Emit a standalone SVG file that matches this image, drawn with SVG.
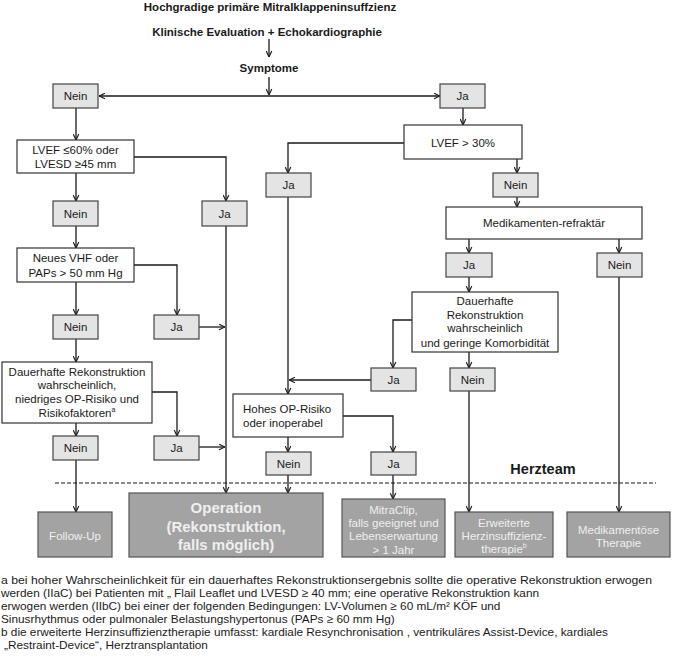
<svg xmlns="http://www.w3.org/2000/svg" width="673" height="672" viewBox="0 0 673 672">
<defs>
<marker id="arr" viewBox="0 0 10 10" refX="9.5" refY="5" markerWidth="7" markerHeight="7" markerUnits="userSpaceOnUse" orient="auto-start-reverse">
<path d="M1,1 L9.5,5 L1,9" fill="none" stroke="#1a1a1a" stroke-width="1.6"/>
</marker>
<style>
.box{fill:#fff;stroke:#333;stroke-width:1.2}
.sm{fill:#e4e4e4;stroke:#444;stroke-width:1.2}
.out{fill:#a3a3a3;stroke:#555;stroke-width:1.2}
.t{font-family:"Liberation Sans",Arial,sans-serif;font-size:11.5px;fill:#1a1a1a;text-anchor:middle}
.b{font-weight:bold}
.ot{fill:#efefef}
.big{font-size:15px}
.fn{font-size:11.8px;text-anchor:start}
.ln{fill:none;stroke:#1a1a1a;stroke-width:1.3}
.ar{marker-end:url(#arr)}
</style>
</defs>
<rect width="673" height="672" fill="#fff"/>

<g id="title"><text class="t b" x="270" y="11">Hochgradige primäre Mitralklappeninsuffzienz</text></g>
<g id="klinisch"><text class="t b" x="267" y="36">Klinische Evaluation + Echokardiographie</text></g>
<g id="symptome"><text class="t b" x="269" y="72">Symptome</text></g>

<g id="connectors">
<path class="ln ar" d="M269,39 V57"/>
<path class="ln ar" d="M269,77 V95"/>
<path class="ln ar" d="M99,96 H440" marker-start="url(#arr)"/>
<path class="ln ar" d="M76,108 V140"/>
<path class="ln ar" d="M76,173 V201"/>
<path class="ln ar" d="M134,157 H226 V201"/>
<path class="ln ar" d="M76,226 V248"/>
<path class="ln ar" d="M134,265 H177 V315"/>
<path class="ln ar" d="M76,282 V315"/>
<path class="ln ar" d="M199,327 H225"/>
<path class="ln ar" d="M226,226 V493"/>
<path class="ln ar" d="M76,339 V362"/>
<path class="ln ar" d="M152,392 H177 V436"/>
<path class="ln ar" d="M76,423 V436"/>
<path class="ln ar" d="M199,447 H225"/>
<path class="ln ar" d="M76,460 V512"/>
<path class="ln ar" d="M463,108 V125"/>
<path class="ln ar" d="M404,143 H288 V173"/>
<path class="ln ar" d="M288,197 V394"/>
<path class="ln ar" d="M371,380 H289"/>
<path class="ln ar" d="M288,437 V452"/>
<path class="ln ar" d="M343,416 H393 V452"/>
<path class="ln ar" d="M288,475 V493"/>
<path class="ln ar" d="M393,475 V499"/>
<path class="ln ar" d="M517,159 V173"/>
<path class="ln ar" d="M517,197 V207"/>
<path class="ln ar" d="M469,239 V253"/>
<path class="ln ar" d="M619,239 V253"/>
<path class="ln ar" d="M469,277 V292"/>
<path class="ln ar" d="M412,320 H393 V368"/>
<path class="ln ar" d="M469,352 V368"/>
<path class="ln ar" d="M469,391 V512"/>
<path class="ln ar" d="M619,277 V512"/>
</g>

<g id="separator"><path d="M55,483 H656" fill="none" stroke="#1a1a1a" stroke-width="1.2" stroke-dasharray="4,2"/></g>
<g id="herzteam"><text class="t b" x="543" y="474" style="font-size:14.5px">Herzteam</text></g>

<g id="nein1"><rect class="sm" x="53" y="84" width="45" height="24"/><text class="t" x="75.5" y="100">Nein</text></g>
<g id="ja1"><rect class="sm" x="440" y="84" width="45" height="24"/><text class="t" x="462.5" y="100">Ja</text></g>

<g id="lvef60"><rect class="box" x="17" y="140" width="117" height="33"/><text class="t" x="75.5" y="154">LVEF ≤60% oder</text><text class="t" x="75.5" y="168">LVESD ≥45 mm</text></g>
<g id="nein2"><rect class="sm" x="53" y="201" width="45" height="25"/><text class="t" x="75.5" y="218">Nein</text></g>
<g id="ja2"><rect class="sm" x="202" y="201" width="45" height="25"/><text class="t" x="224.5" y="218">Ja</text></g>
<g id="vhf"><rect class="box" x="17" y="248" width="117" height="34"/><text class="t" x="75.5" y="262">Neues VHF oder</text><text class="t" x="75.5" y="277">PAPs &gt; 50 mm Hg</text></g>
<g id="nein3"><rect class="sm" x="53" y="315" width="45" height="24"/><text class="t" x="75.5" y="331">Nein</text></g>
<g id="ja3"><rect class="sm" x="154" y="315" width="45" height="24"/><text class="t" x="176.5" y="331">Ja</text></g>
<g id="rekon1"><rect class="box" x="2" y="362" width="150" height="61"/><text class="t" x="77" y="376">Dauerhafte Rekonstruktion</text><text class="t" x="77" y="389">wahrscheinlich,</text><text class="t" x="77" y="403">niedriges OP-Risiko und</text><text class="t" x="77" y="417">Risikofaktoren<tspan font-size="7" dy="-5">a</tspan></text></g>
<g id="nein4"><rect class="sm" x="53" y="436" width="45" height="24"/><text class="t" x="75.5" y="452">Nein</text></g>
<g id="ja4"><rect class="sm" x="154" y="436" width="45" height="24"/><text class="t" x="176.5" y="452">Ja</text></g>

<g id="lvef30"><rect class="box" x="404" y="125" width="118" height="34"/><text class="t" x="463" y="147">LVEF &gt; 30%</text></g>
<g id="ja5"><rect class="sm" x="266" y="173" width="45" height="24"/><text class="t" x="288.5" y="189">Ja</text></g>
<g id="nein5"><rect class="sm" x="493" y="173" width="45" height="24"/><text class="t" x="515.5" y="189">Nein</text></g>
<g id="medref"><rect class="box" x="446" y="207" width="196" height="32"/><text class="t" x="544" y="227">Medikamenten-refraktär</text></g>
<g id="ja6"><rect class="sm" x="446" y="253" width="46" height="24"/><text class="t" x="469" y="269">Ja</text></g>
<g id="nein6"><rect class="sm" x="597" y="253" width="45" height="24"/><text class="t" x="619.5" y="269">Nein</text></g>
<g id="rekon2"><rect class="box" x="412" y="292" width="146" height="60"/><text class="t" x="485" y="305">Dauerhafte</text><text class="t" x="485" y="319">Rekonstruktion</text><text class="t" x="485" y="332">wahrscheinlich</text><text class="t" x="485" y="347">und geringe Komorbidität</text></g>
<g id="ja7"><rect class="sm" x="371" y="368" width="45" height="23"/><text class="t" x="393.5" y="384">Ja</text></g>
<g id="nein7"><rect class="sm" x="450" y="368" width="45" height="23"/><text class="t" x="472.5" y="384">Nein</text></g>
<g id="hohes"><rect class="box" x="233" y="394" width="110" height="43"/><text class="t" x="243" y="413" style="text-anchor:start">Hohes OP-Risiko</text><text class="t" x="243" y="427" style="text-anchor:start">oder inoperabel</text></g>
<g id="nein8"><rect class="sm" x="266" y="452" width="45" height="23"/><text class="t" x="288.5" y="468">Nein</text></g>
<g id="ja8"><rect class="sm" x="371" y="452" width="45" height="23"/><text class="t" x="393.5" y="468">Ja</text></g>

<g id="followup"><rect class="out" x="38" y="512" width="74" height="45"/><text class="t ot" x="75" y="540">Follow-Up</text></g>
<g id="operation"><rect class="out" x="129" y="493" width="194" height="64"/><text class="t b big ot" x="226" y="513">Operation</text><text class="t b big ot" x="226" y="532">(Rekonstruktion,</text><text class="t b big ot" x="226" y="550">falls möglich)</text></g>
<g id="mitraclip"><rect class="out" x="342" y="499" width="103" height="58"/><text class="t ot" x="393.5" y="514">MitraClip,</text><text class="t ot" x="393.5" y="527">falls geeignet und</text><text class="t ot" x="393.5" y="540">Lebenserwartung</text><text class="t ot" x="393.5" y="554">&gt; 1 Jahr</text></g>
<g id="erweitert"><rect class="out" x="455" y="512" width="98" height="45"/><text class="t ot" x="504" y="527">Erweiterte</text><text class="t ot" x="504" y="540">Herzinsuffizienz-</text><text class="t ot" x="504" y="553">therapie<tspan font-size="7" dy="-5">b</tspan></text></g>
<g id="medtherapie"><rect class="out" x="567" y="512" width="103" height="45"/><text class="t ot" x="618.5" y="534">Medikamentöse</text><text class="t ot" x="618.5" y="547">Therapie</text></g>

<g id="footnotes">
<text class="t fn" x="1" y="584" textLength="651" lengthAdjust="spacingAndGlyphs">a bei hoher Wahrscheinlichkeit für ein dauerhaftes Rekonstruktionsergebnis sollte die operative Rekonstruktion erwogen</text>
<text class="t fn" x="1" y="597">werden (IIaC) bei Patienten mit „ Flail Leaflet und LVESD ≥ 40 mm; eine operative Rekonstruktion kann</text>
<text class="t fn" x="1" y="610">erwogen werden (IIbC) bei einer der folgenden Bedingungen: LV-Volumen ≥ 60 mL/m² KÖF und</text>
<text class="t fn" x="1" y="623">Sinusrhythmus oder pulmonaler Belastungshypertonus (PAPs ≥ 60 mm Hg)</text>
<text class="t fn" x="1" y="636">b die erweiterte Herzinsuffizienztherapie umfasst: kardiale Resynchronisation , ventrikuläres Assist-Device, kardiales</text>
<text class="t fn" x="4" y="649">„Restraint-Device“, Herztransplantation</text>
</g>
</svg>
